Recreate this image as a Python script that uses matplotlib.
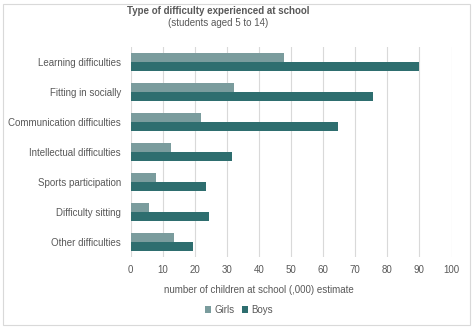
import matplotlib
matplotlib.use("Agg")
import matplotlib.pyplot as plt
from matplotlib.patches import Rectangle
import numpy as np

categories = ["Learning difficulties", "Fitting in socially", "Communication difficulties",
              "Intellectual difficulties", "Sports participation", "Difficulty sitting",
              "Other difficulties"]
girls = [47.8, 32.2, 21.9, 12.6, 8.0, 5.7, 13.5]
boys = [90.0, 75.4, 64.5, 31.6, 23.5, 24.5, 19.6]
xticks = [0, 10, 20, 30, 40, 50, 60, 70, 80, 90, 100]

plt.rcParams['font.family'] = ['Liberation Sans', 'DejaVu Sans']
txt = '#595959'
fs = 7
fig = plt.figure(figsize=(4.74, 3.28), dpi=100)
fig.patches.append(Rectangle((3/474, 3/328), 467/474, 321/328, transform=fig.transFigure,
                             fill=False, edgecolor='#d9d9d9', linewidth=0.8))
ax = fig.add_axes([130.5/474, 1 - 257/328, 321/474, 210/328])
y = np.arange(len(categories))
h = 0.285
ax.barh(y - h/2, girls, height=h, color='#7a9c9d', label='Girls', zorder=3)
ax.barh(y + h/2, boys, height=h, color='#2e6e6f', label='Boys', zorder=3)
ax.set_ylim(len(categories) - 0.5, -0.5)
ax.set_xlim(0, 100)
ax.set_xticks(xticks)
ax.set_yticks(y)
ax.set_yticklabels(categories)
ax.tick_params(axis='both', length=0, colors=txt, labelsize=fs)
ax.tick_params(axis='y', pad=7)
ax.tick_params(axis='x', pad=6)
ax.grid(axis='x', color='#d9d9d9', linewidth=0.8, zorder=0)
for s in ax.spines.values():
    s.set_visible(False)
fig.text(259/474, 1 - 290/328, 'number of children at school (,000) estimate', ha='center',
         va='center', fontsize=fs, color=txt)
fig.text(218/474, 1 - 11/328, 'Type of difficulty experienced at school', ha='center', va='center',
         fontsize=fs, fontweight='bold', color=txt)
fig.text(218/474, 1 - 23/328, '(students aged 5 to 14)', ha='center', va='center',
         fontsize=fs, color=txt)
fig.legend(loc='center', bbox_to_anchor=(239/474, 1 - 310/328), ncol=2, frameon=False,
           fontsize=fs, labelcolor=txt, handlelength=0.6, handleheight=0.6, handletextpad=0.3,
           columnspacing=0.8)
fig.savefig('out.png', dpi=100)
